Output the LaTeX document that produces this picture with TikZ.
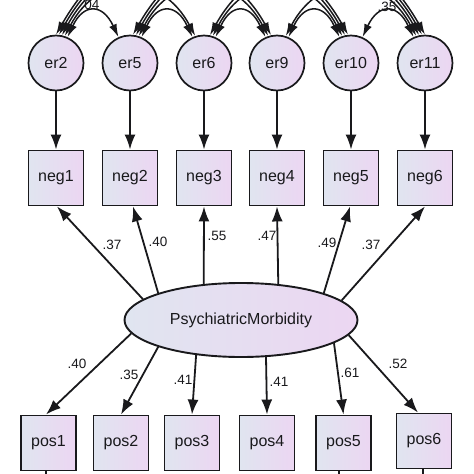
\documentclass[tikz,border=0pt]{standalone}
\usepackage{fontspec}
\setmainfont{Liberation Sans}
\usetikzlibrary{arrows.meta,shapes.geometric}
\definecolor{fillL}{RGB}{224,229,240}
\definecolor{fillR}{RGB}{236,214,242}
\definecolor{ink}{RGB}{25,25,28}
\begin{document}
\begin{tikzpicture}[x=1pt,y=-1pt,
  errc/.style={circle,draw=ink,line width=1.7pt,minimum size=55pt,inner sep=0pt,
    left color=fillL,right color=fillR,text=ink,font=\fontsize{16}{19}\selectfont},
  obs/.style={rectangle,draw=ink,line width=1.9pt,minimum size=55pt,inner sep=0pt,
    left color=fillL,right color=fillR,text=ink,font=\fontsize{16}{19}\selectfont},
  lat/.style={ellipse,draw=ink,line width=1.9pt,minimum width=233pt,minimum height=74pt,inner sep=0pt,
    left color=fillL,right color=fillR,text=ink,font=\fontsize{16}{19}\selectfont},
  arr/.style={-{Latex[length=15pt,width=11pt]},line width=1.8pt,draw=ink},
  cov/.style={{Latex[length=13pt,width=8pt]}-{Latex[length=13pt,width=8pt]},line width=1.5pt,draw=ink},
  plain/.style={line width=1.8pt,draw=ink},
  lbl/.style={font=\fontsize{13.5}{15}\selectfont,text=ink,inner sep=0pt}]
\useasboundingbox (0,0) rectangle (474,474);
\clip (0,0) rectangle (474,474);
\fill[white] (0,0) rectangle (474,474);

% error terms
\node[errc] (e1) at (56,63) {er2};
\node[errc] (e2) at (130,63) {er5};
\node[errc] (e3) at (204,63) {er6};
\node[errc] (e4) at (277,63) {er9};
\node[errc] (e5) at (351,63) {er10};
\node[errc] (e6) at (425,63) {er11};

% negative indicators
\node[obs] (n1) at (56,178) {neg1};
\node[obs] (n2) at (130,178) {neg2};
\node[obs] (n3) at (204,178) {neg3};
\node[obs] (n4) at (277,178) {neg4};
\node[obs] (n5) at (351,178) {neg5};
\node[obs] (n6) at (425,178) {neg6};

% latent
\node[lat] (pm) at (241,320) {PsychiatricMorbidity};

% positive indicators
\node[obs] (p1) at (48.5,443) {pos1};
\node[obs] (p2) at (121,443) {pos2};
\node[obs] (p3) at (192,443) {pos3};
\node[obs] (p4) at (267,443) {pos4};
\node[obs] (p5) at (343.5,443) {pos5};
\node[obs] (p6) at (424,441) {pos6};

% error -> indicator
\foreach \i in {1,...,6} { \draw[arr] (e\i.south) -- (n\i.north); }

% latent -> neg
\draw[arr] (pm.168.6) -- (n1.-88);
\draw[arr] (pm.162) -- (n2.-84);
\draw[arr] (pm.136.6) -- (n3.south);
\draw[arr] (pm.44.2) -- (n4.south);
\draw[arr] (pm.18.9) -- (n5.-92);
\draw[arr] (pm.11.3) -- (n6.south);

% latent -> pos
\draw[arr] (pm.187.6) -- (p1.95);
\draw[arr] (pm.198) -- (p2.north);
\draw[arr] (pm.218.7) -- (p3.north);
\draw[arr] (pm.304.7) -- (p4.north);
\draw[arr] (pm.346.5) -- (p5.north);
\draw[arr] (pm.352.4) -- (p6.102);

% loadings
\node[lbl] (l1) at (112,245) {.37};
\node[lbl] (l2) at (158,242) {.40};
\node[lbl] (l3) at (217,236) {.55};
\node[lbl] (l4) at (267,236) {.47};
\node[lbl] (l5) at (327,243) {.49};
\node[lbl] (l6) at (371,245) {.37};
\node[lbl] (m1) at (77,364) {.40};
\node[lbl] (m2) at (129,375) {.35};
\node[lbl] (m3) at (183,380) {.41};
\node[lbl] (m4) at (279,382) {.41};
\node[lbl] (m5) at (350,373) {.61};
\node[lbl] (m6) at (398,364) {.52};

% covariances among errors
\foreach \i/\j/\d in {1/2/0,2/3/0,3/4/0,4/5/0,5/6/0,
                      1/3/1,2/4/1,3/5/1,4/6/1,
                      1/4/2,2/5/2,3/6/2,
                      1/5/3,2/6/3,
                      1/6/4} {
  \pgfmathsetmacro{\aS}{66+6*\d}
  \pgfmathsetmacro{\aE}{114-6*\d}
  \pgfmathsetmacro{\h}{34+30*\d}
  \pgfmathsetmacro{\w}{16+18*\d}
  \draw[cov] (e\i.\aS) .. controls +(\w,-\h) and +(-\w,-\h) .. (e\j.\aE);
}
\node[lbl] (c1) at (90,5) {.04};
\node[lbl] (c2) at (387,7) {.35};

% residual paths below the pos boxes (cut by the frame)
\coordinate (b1) at (46,490);
\coordinate (b5) at (339,490);
\coordinate (b6) at (423,490);
\draw[plain] (p1.south -| b1) -- (b1);
\draw[plain] (p5.south -| b5) -- (b5);
\draw[plain] (p6.south -| b6) -- (b6);
\end{tikzpicture}
\end{document}
